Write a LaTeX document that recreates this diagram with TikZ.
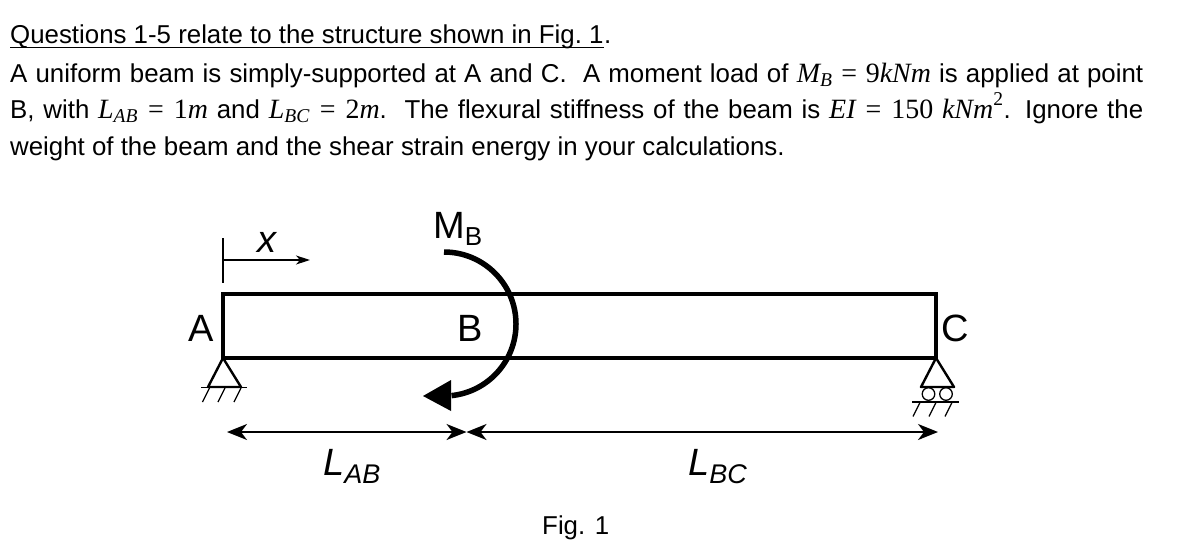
\documentclass[tikz,border=0pt]{standalone}
\usepackage{fontspec}
\usepackage{amsmath}
\setmainfont{Liberation Sans}
\newfontfamily\mathserif[Scale=1.08]{Liberation Serif}
\usetikzlibrary{arrows.meta}
\newcommand{\txt}[2]{\fontsize{#1}{#1}\selectfont #2}
\newcommand{\mv}[1]{\text{\mathserif\itshape #1}}
\newcommand{\mn}[1]{\text{\mathserif #1}}
\newcommand{\meq}{\mathrel{\text{\mathserif =}}}
\newcommand{\hatch}[3]{\draw[hatchline] ( #1 , #3 ) -- ++( -7 , 14 ); \draw[hatchline] ( #2 , #3 ) -- ++( -7 , 14 );}
\tikzset{
  para/.style={anchor=base west, inner sep=0pt, font=\txt{25.85}{}},
  label/.style={inner sep=0pt, font=\txt{38}{}},
  sublabel/.style={inner sep=0pt, font=\itshape\txt{38}{}},
  beamline/.style={line width=3.4pt, line join=miter},
  supportline/.style={line width=2.4pt, line join=round},
  hatchline/.style={line width=1.3pt},
  dimline/.style={line width=2pt, {Stealth[length=20pt, width=16pt, inset=6pt]}-{Stealth[length=20pt, width=16pt, inset=6pt]}},
}
\begin{document}
\begin{tikzpicture}[x=1pt, y=-1pt]
        \useasboundingbox (0,0) rectangle (1193,546);
        \fill[white] (0,0) rectangle (1193,546);

        % text
        \node[para] (qline) at (10,43) {Questions 1-5 relate to the structure shown in Fig.~1};
        \node[para, anchor=base west] (qdot) at (qline.base east) {.};
        \draw[line width=1.8pt] ([yshift=-4.5pt]qline.base west) -- ([yshift=-4.5pt]qline.base east);
        \node[para] (line2) at (10,82) {\makebox[1133pt][s]{A uniform beam is simply-supported at A and C.\ \ A moment load of $\mv{M}_{\mv{B}} \meq \mn{9}\mv{kNm}$ is applied at point}};
        \node[para] (line3) at (10,118.5) {\makebox[1133pt][s]{B, with $\mv{L}_{\mv{AB}} \meq \mn{1}\mv{m}$ and $\mv{L}_{\mv{BC}} \meq \mn{2}\mv{m}$.\ \ The flexural stiffness of the beam is $\mv{EI} \meq \mn{150}\ \mv{kNm}^{\mn{2}}$. Ignore the}};
        \node[para] (line4) at (10,155) {weight of the beam and the shear strain energy in your calculations.};

        % beam
        \coordinate (Atop) at (223,294);
        \coordinate (Abot) at (223,358);
        \coordinate (Ctop) at (936,294);
        \coordinate (Cbot) at (936,358);
        \draw[beamline] (Atop) rectangle (Cbot);

        \node[label] (Alabel) at (201,328) {A};
        \node[label] (Blabel) at (470,328) {B};
        \node[label] (Clabel) at (955,328) {C};

        % x axis
        \coordinate (xtop) at (223,238);
        \coordinate (xbot) at (223,283);
        \coordinate (xorig) at (223,260);
        \coordinate (xend) at (310,260);
        \draw[line width=1.3pt] (xtop) -- (xbot);
        \draw[line width=1.3pt, -{Stealth[length=14pt, width=9pt, inset=4pt]}] (xorig) -- (xend);
        \node[sublabel] (xlabel) at (267,242) {x};

        % moment
        \coordinate (Mstart) at (444,252);
        \coordinate (Mtip) at (423,396);
        \coordinate (Mbase1) at (451,380);
        \coordinate (Mbase2) at (451,411);
        \draw[line width=5.5pt] (Mstart) arc (-90:84:72);
        \fill (Mtip) -- (Mbase1) -- (Mbase2) -- cycle;
        \node[label, anchor=base west] (Mlabel) at (433,238) {M\raisebox{-7pt}{\txt{26}{B}}};

        % support A
        \coordinate (Abl) at (208,387);
        \coordinate (Abr) at (241,387);
        \draw[supportline] (Abot) -- (Abr) -- (Abl) -- cycle;
        \coordinate (Agl) at (201,387.5);
        \coordinate (Agr) at (247,387.5);
        \draw[line width=1.6pt] (Agl) -- (Agr);
        \hatch{209.5}{241}{388}
        \draw[hatchline] (225,388) -- ++(-7,14);

        % support C
        \coordinate (Cbl) at (921,387);
        \coordinate (Cbr) at (954,387);
        \draw[supportline] (Cbot) -- (Cbr) -- (Cbl) -- cycle;
        \draw[line width=1.3pt] (928.5,394) circle (6.3pt);
        \draw[line width=1.3pt] (946,394) circle (6.3pt);
        \coordinate (Cgl) at (912,402);
        \coordinate (Cgr) at (959,402);
        \draw[line width=1.6pt] (Cgl) -- (Cgr);
        \hatch{920}{952}{402.5}
        \draw[hatchline] (936,402.5) -- ++(-7,14);

        % dimensions
        \coordinate (dimA) at (227,432);
        \coordinate (dimB) at (466.5,432);
        \coordinate (dimC) at (938,432);
        \draw[dimline] (dimA) -- (dimB);
        \draw[dimline] (dimB) -- (dimC);
        \node[sublabel, anchor=base west] (LAB) at (323,475) {L\raisebox{-8pt}{\txt{27}{AB}}};
        \node[sublabel, anchor=base west] (LBC) at (688,475) {L\raisebox{-8pt}{\txt{27}{BC}}};

        \node[para] (figlabel) at (542,534) {Fig. 1};

    \end{tikzpicture}
\end{document}
